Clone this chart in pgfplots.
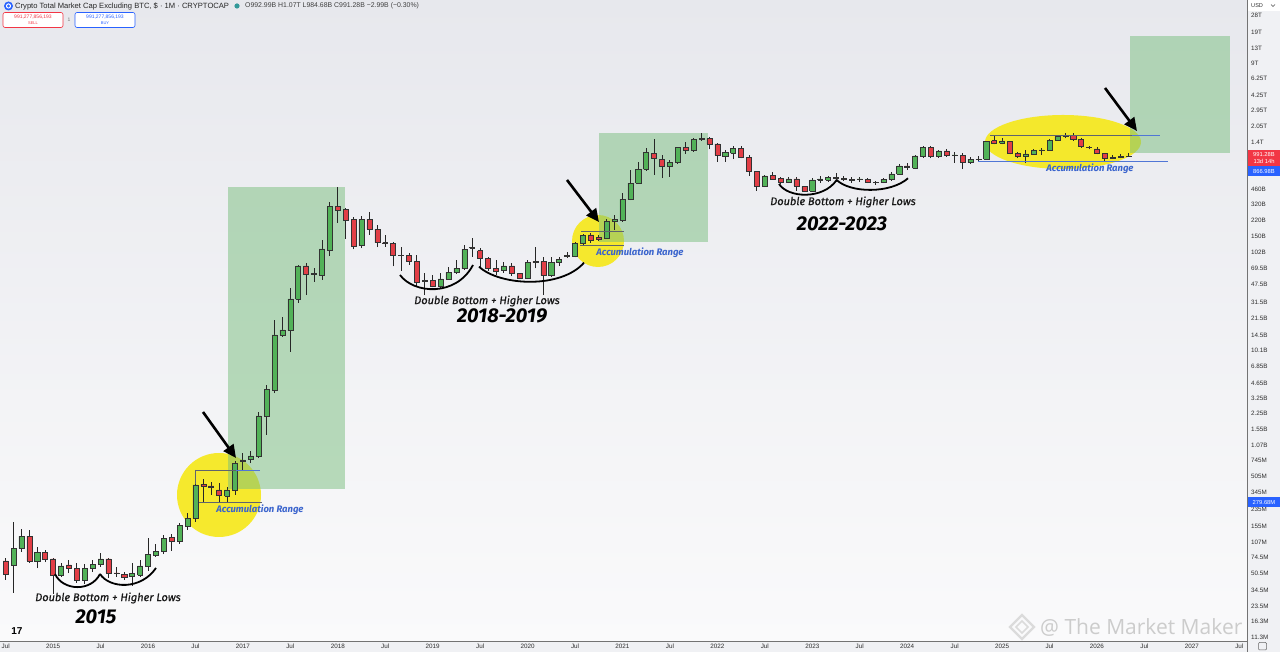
\documentclass[border=0pt]{standalone}
\usepackage{pgfplots}
\pgfplotsset{compat=1.18}
\usepackage{pgfplotstable}
\usepackage{fontspec}
\setmainfont{Liberation Sans}
\newfontfamily\annot{Fira Sans}
\newfontfamily\annotmed{Fira Sans}[FakeBold=0.7]
\newfontfamily\wmfont{Open Sans}
\usetikzlibrary{arrows.meta}

\definecolor{bgtop}{RGB}{231,232,237}
\definecolor{bgbot}{RGB}{250,250,251}
\definecolor{scalebg}{RGB}{240,241,244}
\definecolor{ticktext}{RGB}{45,45,45}
\definecolor{candleup}{RGB}{82,178,88}
\definecolor{candledown}{RGB}{226,62,70}
\definecolor{boxgreen}{RGB}{120,190,125}
\definecolor{hiyellow}{RGB}{246,232,18}
\definecolor{rangeblue}{RGB}{80,118,214}
\definecolor{rangedark}{RGB}{95,100,110}
\definecolor{tvred}{RGB}{242,54,69}
\definecolor{tvblue}{RGB}{41,98,255}
\definecolor{labelblue}{RGB}{58,100,205}

% pixel coordinates of the screenshot: origin top left, y down
\tikzset{px/.style={x=1pt,y=-1pt,yshift=652pt}}

% monthly candles, m = months since Jan 2014, values in billions USD
\pgfplotstableread{
m o h l c
6 0.0686 0.0731 0.0437 0.0500
7 0.0619 0.174 0.0324 0.0926
8 0.0926 0.146 0.0854 0.123
9 0.123 0.141 0.0658 0.0686
10 0.0674 0.0948 0.0577 0.0842
11 0.0842 0.0890 0.0665 0.0719
12 0.0719 0.0731 0.0314 0.0492
13 0.0484 0.0649 0.0466 0.0609
14 0.0624 0.0702 0.0512 0.0577
15 0.0577 0.0649 0.0410 0.0437
16 0.0437 0.0639 0.0398 0.0577
17 0.0577 0.0702 0.0532 0.0634
18 0.0634 0.0823 0.0599 0.0719
19 0.0719 0.0731 0.0455 0.0512
20 0.0515 0.0599 0.0473 0.0510
21 0.0500 0.0532 0.0437 0.0466
22 0.0473 0.0658 0.0379 0.0512
23 0.0492 0.0702 0.0473 0.0609
24 0.0599 0.117 0.0545 0.0803
25 0.0790 0.1025 0.0759 0.0854
26 0.0854 0.127 0.0803 0.1174
27 0.119 0.130 0.0875 0.110
28 0.110 0.170 0.1025 0.158
29 0.157 0.215 0.143 0.1885
30 0.1885 0.438 0.174 0.415
31 0.422 0.4815 0.279 0.405
32 0.405 0.4485 0.327 0.393
33 0.3685 0.438 0.273 0.327
34 0.320 0.398 0.279 0.3685
35 0.3685 0.7375 0.327 0.694
36 0.720 0.879 0.592 0.750
37 0.7625 0.930 0.694 0.824
38 0.811 2.35 0.781 2.13
39 2.09 4.43 1.36 4.00
40 3.94 20.7 3.64 14.5
41 14.4 22.3 13.9 16.3
42 16.0 43.8 9.75 34.0
43 33.7 76.0 31.1 74.2
44 74.2 80.3 37.3 61.0
45 61.0 70.3 51.2 62.0
46 60.0 137 53.3 111
47 108 340 94.0 307
48 307 486 207 280
49 284 291 142 221
50 224 239 110 117
51 120 243 113 224
52 224 265 155 177
53 177 196 116 129
54 129 155 117 128
55 127 132 73.4 95.6
56 95.6 115 65.9 95.0
57 95.6 101 76.0 82.2
58 82.6 96.3 45.9 50.8
59 51.2 62.9 37.3 52.7
60 52.7 60.0 44.6 45.9
61 45.5 62.5 43.8 54.6
62 54.6 71.6 53.3 63.6
63 63.3 84.6 61.4 70.5
64 69.6 122 67.5 110
65 113 143 92.5 116
66 107 113 73.0 89.1
67 89.1 92.5 66.4 70.3
68 70.3 85.6 60.0 64.9
69 66.4 82.2 63.3 74.2
70 74.2 79.1 58.6 62.5
71 62.5 63.3 54.2 55.5
72 55.5 85.6 54.2 80.3
73 82.2 115.6 70.3 80.0
74 82.2 92.5 37.3 59.0
75 59.0 91.2 57.6 80.3
76 80.3 92.5 74.2 87.0
77 93.0 104 89.1 95.0
78 92.5 132 91.2 127
79 127 158 122 152
80 154.7 161 129 137
81 145 155 134 141
82 143 224 142 212
83 212 248.5 174 222
84 221 415 212 360
85 360 721 354 527
86 527 878 518 733
87 733 1206 709 1086
88 1071 1492 641 952
89 930 1029 593 780
90 780 914 616 857
91 857 1253 832 1235
92 1235 1410 1054 1139
93 1139 1528 1113 1492
94 1492 1712 1444 1515
95 1514 1587 1172 1335
96 1335 1377 878 1017
97 988 1158 878 1086
98 1071 1273 930 1206
99 1206 1273 952 975
100 975 1029 626 693
101 693 709 439 486
102 494 641 479 626
103 630 693 569 583
104 593 616 518 539
105 539 616 527 583
106 583 616 439 494
107 486 494 431 439
108 439 593 431 569
109 569 626 534 583
110 569 626 547 601
111 601 667 547 593
112 593 626 560 579
113 566 607 534 572
114 575 616 547 583
115 579 593 527 534
116 534 560 506 537
117 534 593 527 579
118 579 693 560 656
119 656 832 641 793
120 793 846 721 762
121 751 1029 734 1005
122 989 1273 965 1235
123 1235 1273 952 989
124 989 1158 965 1131
125 1131 1178 989 1012
126 1020 1113 857 1029
127 1012 1071 734 866
128 857 989 832 930
129 930 1005 878 925
130 930 1444 914 1410
131 1444 1614 1326 1358
132 1358 1528 1326 1434
133 1410 1444 1046 1071
134 1071 1113 965 989
135 1005 1158 857 1054
136 1054 1178 1029 1139
137 1150 1223 1029 1158
138 1158 1492 1139 1444
139 1468 1652 1434 1587
140 1590 1720 1528 1625
141 1625 1720 1444 1492
142 1492 1528 1223 1253
143 1235 1273 1178 1223
144 1186 1235 1046 1071
145 1071 1086 878 952
146 952 1029 930 965
147 965 1046 952 989
148 993 1070 985 991
}\candles

\begin{document}
\begin{tikzpicture}
\useasboundingbox (0,0) rectangle (1280pt,652pt);
\fill[scalebg] (0,0) rectangle (1280pt,652pt);
\shade[top color=bgtop, bottom color=bgbot] (0,11pt) rectangle (1247pt,652pt);

\begin{scope}[px]
  % watermark
  \begin{scope}
    \clip (0,0) rectangle (1247,641);
    \draw[gray!28, line width=2.2pt] (1022,615) -- (1034,627) -- (1022,639) -- (1010,627) -- cycle;
    \draw[gray!28, line width=1.6pt] (1022,621) -- (1028,627) -- (1022,633) -- (1016,627) -- cycle;
    \node[anchor=west, text=gray!40, inner sep=0pt,
      font=\wmfont\fontsize{21}{21}\selectfont] at (1040,627) {@ The Market Maker};
  \end{scope}
  % highlights
  \fill[hiyellow, opacity=0.88] (219,495) circle [radius=42pt];
  \fill[hiyellow, opacity=0.88] (598,241) circle [radius=26pt];
  \fill[hiyellow, opacity=0.88] (1063,142) ellipse [x radius=78pt, y radius=27pt];
  % target boxes
  \fill[boxgreen, opacity=0.5] (228,187) rectangle (345,489);
  \fill[boxgreen, opacity=0.5] (599,133) rectangle (708,242);
  \fill[boxgreen, opacity=0.5] (1130,36) rectangle (1230,153);
\end{scope}

\begin{axis}[
  at={(0pt,11pt)}, anchor=south west,
  scale only axis, width=1247pt, height=641pt,
  xmin=5.285, xmax=162.97,
  ymode=log, ymin=0.01028, ymax=40450,
  axis line style={draw=none},
  major tick length=0pt, tick style={draw=none},
  xticklabel shift=0pt, yticklabel shift=0pt,
  xtick={6,12,...,162},
  xticklabels={Jul,2015,Jul,2016,Jul,2017,Jul,2018,Jul,2019,Jul,2020,Jul,2021,Jul,2022,Jul,2023,Jul,2024,Jul,2025,Jul,2026,Jul,2027,Jul},
  ytick={0.0113,0.0163,0.0235,0.0345,0.0505,0.0745,0.107,0.155,0.235,0.345,0.505,0.745,1.07,1.55,2.25,3.25,4.65,6.85,10.1,14.5,21.5,31.5,47.5,69.5,102,150,220,320,460,1400,2050,2950,4250,6250,9000,13000,19000,28000},
  yticklabels={11.3M,16.3M,23.5M,34.5M,50.5M,74.5M,107M,155M,235M,345M,505M,745M,1.07B,1.55B,2.25B,3.25B,4.65B,6.85B,10.1B,14.5B,21.5B,31.5B,47.5B,69.5B,102B,150B,220B,320B,460B,1.4T,2.05T,2.95T,4.25T,6.25T,9T,13T,19T,28T},
  yticklabel pos=right,
  /pgf/number format/assume math mode=true,
  xticklabel style={anchor=center, inner sep=0pt, yshift=-5.5pt,
    font=\fontsize{6.3}{7}\selectfont, text=ticktext},
  yticklabel style={anchor=west, inner sep=0pt, xshift=4pt,
    font=\fontsize{6.3}{7}\selectfont, text=ticktext},
]
\pgfplotstablegetrowsof{\candles}
\pgfmathtruncatemacro\lastrow{\pgfplotsretval-1}
\pgfplotsinvokeforeach{0,...,\lastrow}{
  \pgfplotstablegetelem{#1}{m}\of\candles \let\cm\pgfplotsretval
  \pgfplotstablegetelem{#1}{o}\of\candles \let\co\pgfplotsretval
  \pgfplotstablegetelem{#1}{h}\of\candles \let\ch\pgfplotsretval
  \pgfplotstablegetelem{#1}{l}\of\candles \let\cl\pgfplotsretval
  \pgfplotstablegetelem{#1}{c}\of\candles \let\cc\pgfplotsretval
  \pgfmathsetmacro\xa{\cm-0.32}
  \pgfmathsetmacro\xb{\cm+0.32}
  \pgfmathtruncatemacro\isup{\cc>=\co ? 1 : 0}
  \ifnum\isup=1 \def\bodycol{candleup}\else\def\bodycol{candledown}\fi
  \edef\doit{%
    \noexpand\addplot[black!85, line width=0.9pt, forget plot]
      coordinates {(\cm,\cl) (\cm,\ch)};
    \noexpand\addplot[fill=\bodycol, draw=black!80, line width=0.6pt, forget plot]
      coordinates {(\xa,\co) (\xb,\co) (\xb,\cc) (\xa,\cc) (\xa,\co)};
  }\doit
}
\end{axis}

\begin{scope}[px]
  % scale borders
  \draw[black!55, line width=0.8pt] (1247,0) -- (1247,652);
  \draw[black!55, line width=0.8pt] (0,641) -- (1247,641);
  % accumulation ranges
  \draw[rangedark, line width=0.9pt] (195,470) -- (236,470);
  \draw[rangeblue, line width=0.9pt] (236,470) -- (260,470);
  \draw[rangedark, line width=0.9pt] (195,470) -- (195,484);
  \draw[rangedark, line width=0.9pt] (199,502.7) -- (262,502.7);
  \draw[rangedark, line width=0.9pt] (581,231) -- (624,231);
  \draw[rangedark, line width=0.9pt] (580,245.7) -- (624,245.7);
  \draw[rangedark, line width=0.9pt] (990,135) -- (1132,135);
  \draw[rangeblue, line width=0.9pt] (1132,135) -- (1160,135);
  \draw[rangeblue, line width=0.9pt] (978,161.7) -- (1168,161.7);
  % rounded bottoms
  \draw[black, line width=1.8pt] (55,574) .. controls (63,591) and (91,592) .. (100,574);
  \draw[black, line width=1.8pt] (100,574) .. controls (110,589) and (141,590) .. (156,568);
  \draw[black, line width=1.8pt] (400,275) .. controls (414,294) and (456,297) .. (473,265);
  \draw[black, line width=1.8pt] (479,266.7) .. controls (500,286) and (561,289) .. (584,262.7);
  \draw[black, line width=1.8pt] (779,184) .. controls (788,198) and (823,200) .. (836.7,180);
  \draw[black, line width=1.8pt] (836.7,180) .. controls (850,193) and (890,194) .. (908,178.3);
  % arrows
  \draw[black, line width=2.6pt, -{Triangle[length=13pt,width=12pt]}] (203,412) -- (236,458);
  \draw[black, line width=2.6pt, -{Triangle[length=13pt,width=12pt]}] (567,180) -- (599,222);
  \draw[black, line width=2.6pt, -{Triangle[length=13pt,width=12pt]}] (1105,88) -- (1137,131);
  % annotation texts
  \tikzset{acc/.style={font=\annot\bfseries\itshape\fontsize{9.5}{10}\selectfont, text=labelblue, inner sep=0pt},
    dbl/.style={font=\annotmed\itshape\fontsize{11}{12}\selectfont, text=black!90, inner sep=0pt},
    yr/.style={font=\annot\bfseries\itshape\fontsize{20}{20}\selectfont, text=black, inner sep=0pt}}
  \node[acc] at (260,510) {Accumulation Range};
  \node[acc] at (640,253) {Accumulation Range};
  \node[acc] at (1090,169) {Accumulation Range};
  \node[dbl] at (108,598) {Double Bottom + Higher Lows};
  \node[yr] at (96,617) {2015};
  \node[dbl] at (487,301) {Double Bottom + Higher Lows};
  \node[yr] at (502,316) {2018-2019};
  \node[dbl] at (843,202) {Double Bottom + Higher Lows};
  \node[yr] at (842,224) {2022-2023};
  % header
  \fill[tvblue] (8.5,6) circle [radius=4.5pt];
  \fill[white] (8.5,6) circle [radius=2.6pt];
  \fill[tvblue] (8.5,6) circle [radius=1.6pt];
  \node[anchor=west, inner sep=0pt, font=\fontsize{7.6}{8}\selectfont, text=black!85] at (15,6)
    {Crypto Total Market Cap Excluding BTC, \$ · 1M · CRYPTOCAP};
  \fill[teal!80] (237,6) circle [radius=2.6pt];
  \node[anchor=west, inner sep=0pt, font=\fontsize{6.9}{8}\selectfont, text=black!75] at (245,6)
    {O992.99B H1.07T L984.68B C991.28B −2.99B (−0.30\%)};
  \draw[tvred, fill=white, rounded corners=2pt, line width=0.6pt] (3,12.5) rectangle (63,27.5);
  \node[text=tvred, inner sep=0pt, font=\fontsize{5}{5}\selectfont] at (33,17.3) {991,277,856,193};
  \node[text=tvred, inner sep=0pt, font=\fontsize{4}{4}\selectfont] at (33,23.6) {SELL};
  \node[text=black!55, inner sep=0pt, font=\fontsize{5}{5}\selectfont] at (69,20) {1};
  \draw[tvblue, fill=white, rounded corners=2pt, line width=0.6pt] (75,12.5) rectangle (135,27.5);
  \node[text=tvblue, inner sep=0pt, font=\fontsize{5}{5}\selectfont] at (105,17.3) {991,277,856,193};
  \node[text=tvblue, inner sep=0pt, font=\fontsize{4}{4}\selectfont] at (105,23.6) {BUY};
  % price scale labels
  \fill[white] (1248,0) rectangle (1280,11);
  \node[anchor=west, inner sep=0pt, font=\fontsize{5.6}{6}\selectfont, text=black!80] at (1251,5.5) {USD};
  \draw[black!70, line width=0.5pt] (1271,4.5) -- (1273,6.5) -- (1275,4.5);
  \fill[tvred] (1248,150.5) rectangle (1280,166);
  \node[text=white, inner sep=0pt, font=\fontsize{5.8}{6}\selectfont] at (1264,155) {991.28B};
  \node[text=white, inner sep=0pt, font=\fontsize{5.8}{6}\selectfont] at (1264,161.6) {13d 14h};
  \fill[tvblue] (1248,166) rectangle (1280,176.5);
  \node[text=white, inner sep=0pt, font=\fontsize{5.8}{6}\selectfont] at (1264,171.2) {866.98B};
  \fill[tvblue] (1248,497.5) rectangle (1280,507);
  \node[text=white, inner sep=0pt, font=\fontsize{5.8}{6}\selectfont] at (1264,502.3) {279.68M};
  % corner icons
  \draw[black!60, line width=0.5pt, rounded corners=1pt] (1258.5,642.5) rectangle (1266.5,650);
  \node[inner sep=0pt, font=\bfseries\fontsize{10}{10}\selectfont] at (17,631) {17};
\end{scope}
\end{tikzpicture}
\end{document}
